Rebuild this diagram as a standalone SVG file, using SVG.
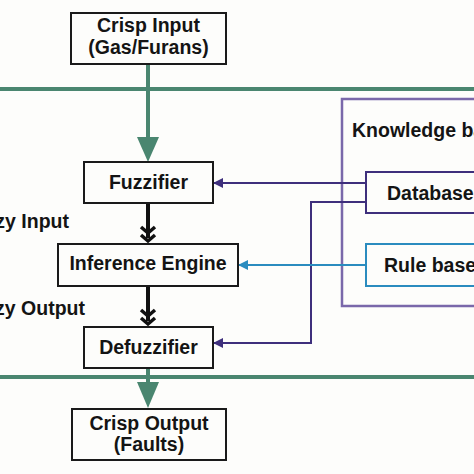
<svg xmlns="http://www.w3.org/2000/svg" width="474" height="474" viewBox="0 0 474 474">
<style>
text{font-family:"Liberation Sans",Arial,sans-serif;font-weight:bold;font-size:19.5px;fill:#141414}
.box{fill:#fdfdfb;stroke:#1a1a1a;stroke-width:2}
.c{text-anchor:middle}
.g{stroke:#4a8670;stroke-width:4;fill:none}
.pu{stroke:#3e2f7c;stroke-width:2;fill:none}
.bl{stroke:#2a8cbf;stroke-width:2;fill:none}
.blk{stroke:#111;stroke-width:4;fill:none}
.chev{stroke:#111;stroke-width:3.5;fill:none}
</style>
<defs>
<marker id="ap" markerWidth="10" markerHeight="10" refX="9" refY="5" orient="auto" markerUnits="userSpaceOnUse"><path d="M0,0 L10,5 L0,10 Z" fill="#3e2f7c"/></marker>
<marker id="ab" markerWidth="10" markerHeight="10" refX="9" refY="5" orient="auto" markerUnits="userSpaceOnUse"><path d="M0,0 L10,5 L0,10 Z" fill="#2a8cbf"/></marker>
</defs>
<rect width="474" height="474" fill="#fdfdfb"/>
<g id="frame">
<line class="g" x1="0" y1="89" x2="474" y2="89"/>
<line class="g" x1="0" y1="377" x2="474" y2="377"/>
</g>
<g id="knowledge-base">
<rect x="342" y="99" width="160" height="207" fill="none" stroke="#7a68aa" stroke-width="2.5"/>
<text x="352" y="137">Knowledge base</text>
</g>
<g id="connectors">
<line class="g" x1="148" y1="64" x2="148" y2="140"/>
<path d="M137,137 L159,137 L148,162 Z" fill="#4a8670"/>
<line class="g" x1="148" y1="368" x2="148" y2="384"/>
<path d="M137,382 L159,382 L148,408 Z" fill="#4a8670"/>
<line class="blk" x1="148" y1="203" x2="148" y2="238"/>
<path class="chev" d="M141,227 L148,233 L155,227 M141,235 L148,241 L155,235"/>
<line class="blk" x1="148" y1="286" x2="148" y2="321"/>
<path class="chev" d="M141,310 L148,316 L155,310 M141,318 L148,324 L155,318"/>
<line class="pu" x1="366" y1="183" x2="214" y2="183" marker-end="url(#ap)"/>
<polyline class="pu" points="366,202 311,202 311,343 214,343" marker-end="url(#ap)"/>
<line class="bl" x1="366" y1="265" x2="239" y2="265" marker-end="url(#ab)"/>
</g>
<g id="crisp-input">
<rect class="box" x="71" y="13" width="155" height="51"/>
<text class="c" x="148.5" y="32">Crisp Input</text>
<text class="c" x="148.5" y="54">(Gas/Furans)</text>
</g>
<g id="fuzzifier">
<rect class="box" x="84" y="162" width="129" height="41"/>
<text class="c" x="148.5" y="189">Fuzzifier</text>
</g>
<g id="fuzzy-input-label"><text x="69" y="228" text-anchor="end">Fuzzy Input</text></g>
<g id="inference-engine">
<rect class="box" x="58" y="244" width="180" height="42"/>
<text class="c" x="148" y="270">Inference Engine</text>
</g>
<g id="fuzzy-output-label"><text x="85" y="315" text-anchor="end">Fuzzy Output</text></g>
<g id="defuzzifier">
<rect class="box" x="84" y="327" width="129" height="41"/>
<text class="c" x="148.5" y="354">Defuzzifier</text>
</g>
<g id="crisp-output">
<rect class="box" x="72" y="409" width="154" height="51"/>
<text class="c" x="149" y="430">Crisp Output</text>
<text class="c" x="149" y="451">(Faults)</text>
</g>
<g id="database">
<rect x="366" y="172" width="140" height="41" fill="#fdfdfb" stroke="#3e2f7c" stroke-width="2"/>
<text x="387" y="200">Database</text>
</g>
<g id="rule-base">
<rect x="366" y="244" width="140" height="42" fill="#fdfdfb" stroke="#2a8cbf" stroke-width="2"/>
<text x="384" y="272">Rule base</text>
</g>
</svg>
